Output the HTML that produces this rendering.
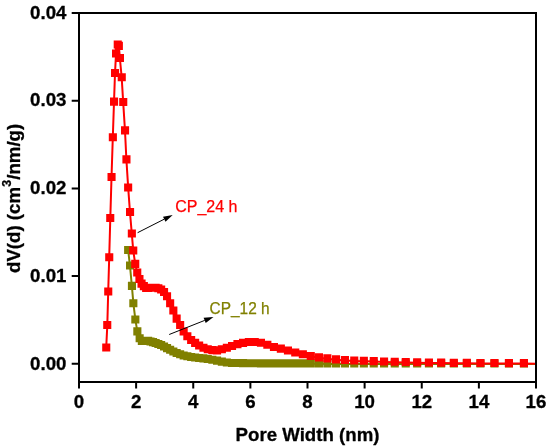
<!DOCTYPE html>
<html><head><meta charset="utf-8"><title>Pore size distribution</title>
<style>html,body{margin:0;padding:0;background:#fff}body{width:550px;height:448px;position:relative;overflow:hidden}</style></head>
<body>
<svg width="550" height="448" viewBox="0 0 550 448" style="position:absolute;left:0;top:0">
<defs><clipPath id="c"><rect x="79" y="13" width="457" height="369"/></clipPath></defs>
<g clip-path="url(#c)">
<polyline fill="none" stroke="#808000" stroke-width="2" stroke-linejoin="round" points="128.2,250.5 130.0,266.0 131.9,286.3 133.4,303.7 135.4,319.9 137.4,331.8 139.7,338.7 141.8,341.3 143.5,341.2 145.8,341.2 148.1,341.3 150.6,341.9 153.1,342.6 155.7,343.5 158.4,344.5 161.2,345.5 164.1,347.0 167.1,348.6 170.2,350.2 173.4,351.9 176.7,353.4 180.1,354.7 183.7,355.9 187.4,356.7 191.2,357.4 195.1,358.0 199.2,358.5 203.4,358.8 207.8,359.4 212.3,360.2 217.0,361.1 221.9,362.1 226.9,362.9 232.1,363.4 237.5,363.5 243.0,363.6 248.8,363.7 254.8,363.7 261.0,363.8 267.4,363.8 274.0,363.8 280.8,363.8 287.9,363.8 295.3,363.8 302.9,363.8 310.8,363.8 318.9,363.8 327.3,363.9 336.1,363.9 345.0,363.9 354.3,363.9 363.9,363.9 373.8,363.9 384.1,363.9 394.7,363.9 405.8,363.9 417.2,363.9 429.0,363.9 441.2,364.0 453.8,364.0 466.9,364.0 480.4,364.0 494.4,364.0 508.9,364.0 523.9,364.0 539.5,364.0"/>
<path fill="#808000" d="M124.1 246.0h8.1v8.1h-8.1zM126.0 261.5h8.1v8.1h-8.1zM127.9 281.8h8.1v8.1h-8.1zM129.3 299.2h8.1v8.1h-8.1zM131.3 315.4h8.1v8.1h-8.1zM133.3 327.3h8.1v8.1h-8.1zM135.6 334.2h8.1v8.1h-8.1zM137.8 336.8h8.1v8.1h-8.1zM139.5 336.7h8.1v8.1h-8.1zM141.7 336.7h8.1v8.1h-8.1zM144.1 336.8h8.1v8.1h-8.1zM146.5 337.4h8.1v8.1h-8.1zM149.0 338.1h8.1v8.1h-8.1zM151.6 339.0h8.1v8.1h-8.1zM154.3 340.0h8.1v8.1h-8.1zM157.1 341.0h8.1v8.1h-8.1zM160.0 342.5h8.1v8.1h-8.1zM163.0 344.1h8.1v8.1h-8.1zM166.1 345.7h8.1v8.1h-8.1zM169.3 347.4h8.1v8.1h-8.1zM172.6 348.9h8.1v8.1h-8.1zM176.1 350.2h8.1v8.1h-8.1zM179.6 351.4h8.1v8.1h-8.1zM183.3 352.2h8.1v8.1h-8.1zM187.1 352.9h8.1v8.1h-8.1zM191.1 353.5h8.1v8.1h-8.1zM195.1 354.0h8.1v8.1h-8.1zM199.4 354.3h8.1v8.1h-8.1zM203.7 354.9h8.1v8.1h-8.1zM208.3 355.7h8.1v8.1h-8.1zM213.0 356.6h8.1v8.1h-8.1zM217.8 357.6h8.1v8.1h-8.1zM222.8 358.4h8.1v8.1h-8.1zM228.0 358.9h8.1v8.1h-8.1zM233.4 359.0h8.1v8.1h-8.1zM239.0 359.1h8.1v8.1h-8.1zM244.8 359.2h8.1v8.1h-8.1zM250.7 359.2h8.1v8.1h-8.1zM256.9 359.3h8.1v8.1h-8.1zM263.3 359.3h8.1v8.1h-8.1zM269.9 359.3h8.1v8.1h-8.1zM276.8 359.3h8.1v8.1h-8.1zM283.9 359.3h8.1v8.1h-8.1zM291.2 359.3h8.1v8.1h-8.1zM298.8 359.3h8.1v8.1h-8.1zM306.7 359.3h8.1v8.1h-8.1zM314.9 359.3h8.1v8.1h-8.1zM323.3 359.4h8.1v8.1h-8.1zM332.0 359.4h8.1v8.1h-8.1zM340.9 359.4h8.1v8.1h-8.1zM350.2 359.4h8.1v8.1h-8.1zM359.8 359.4h8.1v8.1h-8.1zM369.7 359.4h8.1v8.1h-8.1zM380.0 359.4h8.1v8.1h-8.1zM390.7 359.4h8.1v8.1h-8.1zM401.7 359.4h8.1v8.1h-8.1zM413.1 359.4h8.1v8.1h-8.1zM424.9 359.4h8.1v8.1h-8.1zM437.1 359.5h8.1v8.1h-8.1zM449.8 359.5h8.1v8.1h-8.1zM462.8 359.5h8.1v8.1h-8.1zM476.4 359.5h8.1v8.1h-8.1zM490.4 359.5h8.1v8.1h-8.1zM504.9 359.5h8.1v8.1h-8.1zM519.9 359.5h8.1v8.1h-8.1zM535.4 359.5h8.1v8.1h-8.1z"/>

<polyline fill="none" stroke="#ff0000" stroke-width="2" stroke-linejoin="round" points="106.2,347.9 107.3,325.4 108.2,291.9 109.2,257.7 110.3,218.4 111.5,177.5 112.8,137.7 114.0,102.1 115.0,73.4 116.0,53.9 117.7,45.0 118.8,46.3 119.9,58.5 121.7,77.7 123.2,102.4 125.0,130.8 126.4,159.8 128.2,187.9 130.0,212.5 131.8,233.9 133.3,251.0 135.3,264.3 137.3,272.9 139.5,279.4 141.6,284.1 143.8,286.6 146.2,288.2 148.1,288.2 150.6,288.2 153.1,288.2 155.7,288.2 158.4,288.7 161.2,290.0 164.1,292.5 167.1,296.7 170.2,303.7 173.4,311.0 176.7,319.1 180.1,325.5 183.7,331.9 187.4,336.7 191.2,340.4 195.1,343.3 199.2,345.9 203.4,348.2 207.8,349.7 212.3,350.6 217.0,350.8 221.9,349.7 226.9,348.2 232.1,346.5 237.5,344.6 243.0,343.3 248.8,342.5 254.8,342.5 261.0,343.2 267.4,345.2 274.0,347.4 280.8,349.1 287.9,351.0 295.3,353.0 302.9,354.7 310.8,356.5 318.9,357.8 327.3,358.8 336.1,359.8 345.0,360.4 354.3,360.9 363.9,361.2 373.8,361.6 384.1,361.9 394.7,362.2 405.8,362.4 417.2,362.7 429.0,362.9 441.2,363.1 453.8,363.3 466.9,363.3 480.4,363.4 494.4,363.5 508.9,363.6 523.9,363.6 539.5,363.7"/>
<path fill="#ff0000" d="M102.2 343.4h8.1v8.1h-8.1zM103.2 320.9h8.1v8.1h-8.1zM104.2 287.4h8.1v8.1h-8.1zM105.2 253.2h8.1v8.1h-8.1zM106.2 213.9h8.1v8.1h-8.1zM107.5 173.0h8.1v8.1h-8.1zM108.8 133.2h8.1v8.1h-8.1zM110.0 97.6h8.1v8.1h-8.1zM111.0 68.9h8.1v8.1h-8.1zM112.0 49.4h8.1v8.1h-8.1zM113.7 40.5h8.1v8.1h-8.1zM114.8 41.8h8.1v8.1h-8.1zM115.9 54.0h8.1v8.1h-8.1zM117.7 73.2h8.1v8.1h-8.1zM119.2 97.9h8.1v8.1h-8.1zM121.0 126.3h8.1v8.1h-8.1zM122.4 155.3h8.1v8.1h-8.1zM124.1 183.4h8.1v8.1h-8.1zM126.0 208.0h8.1v8.1h-8.1zM127.8 229.4h8.1v8.1h-8.1zM129.2 246.5h8.1v8.1h-8.1zM131.2 259.8h8.1v8.1h-8.1zM133.2 268.4h8.1v8.1h-8.1zM135.4 274.9h8.1v8.1h-8.1zM137.5 279.6h8.1v8.1h-8.1zM139.8 282.1h8.1v8.1h-8.1zM142.1 283.8h8.1v8.1h-8.1zM144.1 283.8h8.1v8.1h-8.1zM146.5 283.7h8.1v8.1h-8.1zM149.0 283.7h8.1v8.1h-8.1zM151.6 283.7h8.1v8.1h-8.1zM154.3 284.2h8.1v8.1h-8.1zM157.1 285.5h8.1v8.1h-8.1zM160.0 288.0h8.1v8.1h-8.1zM163.0 292.2h8.1v8.1h-8.1zM166.1 299.2h8.1v8.1h-8.1zM169.3 306.5h8.1v8.1h-8.1zM172.6 314.6h8.1v8.1h-8.1zM176.1 321.0h8.1v8.1h-8.1zM179.6 327.4h8.1v8.1h-8.1zM183.3 332.2h8.1v8.1h-8.1zM187.1 335.9h8.1v8.1h-8.1zM191.1 338.8h8.1v8.1h-8.1zM195.1 341.4h8.1v8.1h-8.1zM199.4 343.7h8.1v8.1h-8.1zM203.7 345.2h8.1v8.1h-8.1zM208.3 346.1h8.1v8.1h-8.1zM213.0 346.3h8.1v8.1h-8.1zM217.8 345.2h8.1v8.1h-8.1zM222.8 343.7h8.1v8.1h-8.1zM228.0 342.0h8.1v8.1h-8.1zM233.4 340.1h8.1v8.1h-8.1zM239.0 338.8h8.1v8.1h-8.1zM244.8 338.0h8.1v8.1h-8.1zM250.7 338.0h8.1v8.1h-8.1zM256.9 338.7h8.1v8.1h-8.1zM263.3 340.7h8.1v8.1h-8.1zM269.9 342.9h8.1v8.1h-8.1zM276.8 344.6h8.1v8.1h-8.1zM283.9 346.5h8.1v8.1h-8.1zM291.2 348.5h8.1v8.1h-8.1zM298.8 350.2h8.1v8.1h-8.1zM306.7 352.0h8.1v8.1h-8.1zM314.9 353.3h8.1v8.1h-8.1zM323.3 354.3h8.1v8.1h-8.1zM332.0 355.3h8.1v8.1h-8.1zM340.9 355.9h8.1v8.1h-8.1zM350.2 356.4h8.1v8.1h-8.1zM359.8 356.7h8.1v8.1h-8.1zM369.7 357.1h8.1v8.1h-8.1zM380.0 357.4h8.1v8.1h-8.1zM390.7 357.7h8.1v8.1h-8.1zM401.7 357.9h8.1v8.1h-8.1zM413.1 358.2h8.1v8.1h-8.1zM424.9 358.4h8.1v8.1h-8.1zM437.1 358.6h8.1v8.1h-8.1zM449.8 358.8h8.1v8.1h-8.1zM462.8 358.8h8.1v8.1h-8.1zM476.4 358.9h8.1v8.1h-8.1zM490.4 359.0h8.1v8.1h-8.1zM504.9 359.1h8.1v8.1h-8.1zM519.9 359.1h8.1v8.1h-8.1zM535.4 359.2h8.1v8.1h-8.1z"/>

</g>
<rect x="79" y="13" width="457" height="369" fill="none" stroke="#000" stroke-width="2"/>
<path d="M79.00 382V388.5M136.12 382V388.5M193.25 382V388.5M250.38 382V388.5M307.50 382V388.5M364.62 382V388.5M421.75 382V388.5M478.88 382V388.5M536.00 382V388.5M79 363.80H71.7M79 276.10H71.7M79 188.40H71.7M79 100.70H71.7M79 13.00H71.7" stroke="#000" stroke-width="2" fill="none"/>
<line x1="137.6" y1="232.7" x2="164.2" y2="219.2" stroke="#000" stroke-width="1"/><polygon fill="#000" points="172.7,214.9 165.5,221.7 163.0,216.7"/>
<line x1="169.2" y1="334.5" x2="204.7" y2="320.4" stroke="#000" stroke-width="1"/><polygon fill="#000" points="213.5,316.9 205.7,323.0 203.6,317.8"/>
<g font-family="Liberation Sans, Arial, sans-serif" font-weight="bold" font-size="18.67" fill="#000" stroke="#000" stroke-width="0.3" stroke-linejoin="round">
<text x="79.0" y="408" text-anchor="middle">0</text>
<text x="136.1" y="408" text-anchor="middle">2</text>
<text x="193.2" y="408" text-anchor="middle">4</text>
<text x="250.4" y="408" text-anchor="middle">6</text>
<text x="307.5" y="408" text-anchor="middle">8</text>
<text x="364.6" y="408" text-anchor="middle">10</text>
<text x="421.8" y="408" text-anchor="middle">12</text>
<text x="478.9" y="408" text-anchor="middle">14</text>
<text x="536.0" y="408" text-anchor="middle">16</text>
<text x="66.4" y="370" text-anchor="end">0.00</text>
<text x="66.4" y="282" text-anchor="end">0.01</text>
<text x="66.4" y="194" text-anchor="end">0.02</text>
<text x="66.4" y="106" text-anchor="end">0.03</text>
<text x="66.4" y="19" text-anchor="end">0.04</text>
<text x="307.5" y="440.7" text-anchor="middle">Pore Width (nm)</text>
<text transform="translate(20,198.4) rotate(-90)" text-anchor="middle">dV(d) (cm<tspan font-size="12.3" dy="-8.8" dx="0.2">3</tspan><tspan dy="8.8" dx="0.2">/nm/g)</tspan></text>
</g>
<g font-family="Liberation Sans, Arial, sans-serif" font-size="16">
<text x="175.2" y="212" fill="#ff0000" stroke="#ff0000" stroke-width="0.25">CP_24 h</text>
<text x="209.6" y="314" fill="#808000" stroke="#808000" stroke-width="0.25" textLength="60" lengthAdjust="spacingAndGlyphs">CP_12 h</text>
</g>
</svg>
</body></html>
